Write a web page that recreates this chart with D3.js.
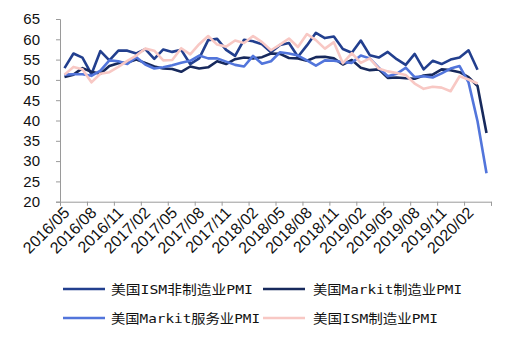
<!DOCTYPE html>
<html>
<head>
<meta charset="utf-8">
<script src="https://cdn.jsdelivr.net/npm/d3@7"></script>
<style>
  body { margin: 0; background: #fff; }
  svg { display: block; }
</style>
</head>
<body>
<svg id="chart" width="512" height="337"></svg>
<script>
// Monthly categories, 2016/05 – 2020/04
const months = [
  "2016/05","2016/06","2016/07","2016/08","2016/09","2016/10","2016/11","2016/12",
  "2017/01","2017/02","2017/03","2017/04","2017/05","2017/06","2017/07","2017/08",
  "2017/09","2017/10","2017/11","2017/12","2018/01","2018/02","2018/03","2018/04",
  "2018/05","2018/06","2018/07","2018/08","2018/09","2018/10","2018/11","2018/12",
  "2019/01","2019/02","2019/03","2019/04","2019/05","2019/06","2019/07","2019/08",
  "2019/09","2019/10","2019/11","2019/12","2020/01","2020/02","2020/03","2020/04"
];

// Labelled months on the x axis
const tickLabels = [
  "2016/05","2016/08","2016/11","2017/02","2017/05","2017/08","2017/11","2018/02",
  "2018/05","2018/08","2018/11","2019/02","2019/05","2019/08","2019/11","2020/02"
];

const yTicks = [20, 25, 30, 35, 40, 45, 50, 55, 60, 65];

// 美国ISM非制造业PMI
const ismNonMfg = [
  52.9, 56.5, 55.5, 51.4, 57.1, 54.8, 57.2, 57.2,
  56.5, 57.6, 55.2, 57.5, 56.9, 57.4, 53.9, 55.3, 59.8, 60.1, 57.4, 55.9,
  59.9, 59.5, 58.8, 56.8, 58.6, 59.1, 55.7, 58.5, 61.6, 60.3, 60.7, 57.6,
  56.7, 59.7, 56.1, 55.5, 56.9, 55.1, 53.7, 56.4, 52.6, 54.7, 53.9, 55.0,
  55.5, 57.3, 52.5, null
];

// 美国Markit制造业PMI
const markitMfg = [
  50.7, 51.3, 52.9, 52.0, 51.5, 53.4, 54.1, 54.3,
  55.0, 54.2, 53.3, 52.8, 52.7, 52.0, 53.3, 52.8, 53.1, 54.6, 53.9, 55.1,
  55.5, 55.3, 55.6, 56.5, 56.4, 55.4, 55.3, 54.7, 55.6, 55.7, 55.3, 53.8,
  54.9, 53.0, 52.4, 52.6, 50.5, 50.6, 50.4, 50.3, 51.1, 51.3, 52.6, 52.4,
  51.9, 50.7, 48.5, 36.9
];

// 美国Markit服务业PMI
const markitSvc = [
  51.3, 51.4, 51.4, 51.0, 52.3, 54.8, 54.6, 53.9,
  55.6, 53.8, 52.8, 53.1, 53.6, 54.2, 54.7, 56.0, 55.3, 55.3, 54.5, 53.7,
  53.3, 55.9, 54.0, 54.6, 56.8, 56.5, 56.0, 54.8, 53.5, 54.8, 54.7, 54.4,
  54.2, 56.0, 55.3, 53.0, 50.9, 51.5, 53.0, 50.7, 50.9, 50.6, 51.6, 52.8,
  53.4, 49.4, 39.8, 27.0
];

// 美国ISM制造业PMI
const ismMfg = [
  51.3, 53.2, 52.6, 49.4, 51.5, 51.9, 53.2, 54.7,
  56.0, 57.7, 57.2, 54.8, 54.9, 57.8, 56.3, 58.8, 60.8, 58.7, 58.2, 59.7,
  59.1, 60.8, 59.3, 57.3, 58.7, 60.2, 58.1, 61.3, 59.8, 57.7, 59.3, 54.1,
  56.6, 54.2, 55.3, 52.8, 52.1, 51.7, 51.2, 49.1, 47.8, 48.3, 48.1, 47.2,
  50.9, 50.1, 49.1, null
];

const seriesNames = ["美国ISM非制造业PMI", "美国Markit制造业PMI", "美国Markit服务业PMI", "美国ISM制造业PMI"];
const seriesValues = [ismNonMfg, markitMfg, markitSvc, ismMfg];
const seriesColors = ["#223f8e", "#17295c", "#5275db", "#f8c8c4"];

const svg = d3.select("#chart");
const plotLeft = 60, plotRight = 491, plotTop = 19, plotBottom = 201.7;

const x = d3.scaleBand().domain(months).range([plotLeft, plotRight]).padding(0);
const xEdge = d3.scaleLinear().domain([0, months.length]).range([plotLeft, plotRight]);
const y = d3.scaleLinear().domain([20, 65]).range([plotBottom, plotTop]);

const axisColor = "#9a9a9a";

// y axis
const yAxis = svg.append("g")
  .attr("transform", `translate(${plotLeft},0)`)
  .call(d3.axisLeft(y).tickValues(yTicks).tickSize(4).tickPadding(16));
yAxis.select(".domain").attr("stroke", axisColor);
yAxis.selectAll(".tick line").attr("stroke", axisColor);
yAxis.selectAll(".tick text")
  .attr("fill", "#111")
  .style("font-family", "'Liberation Sans', Arial, sans-serif")
  .style("font-size", "15px");

// x axis: ticks on category boundaries every quarter
const edgeTicks = d3.range(0, months.length + 1, 3);
const xAxis = svg.append("g")
  .attr("transform", `translate(0,${plotBottom})`)
  .call(d3.axisBottom(xEdge).tickValues(edgeTicks).tickSize(4).tickFormat(""));
xAxis.select(".domain").attr("stroke", axisColor);
xAxis.selectAll(".tick line").attr("stroke", axisColor);

// rotated month labels, anchored at category centres
svg.append("g").selectAll("text")
  .data(tickLabels)
  .join("text")
  .attr("transform", d => `translate(${x(d) + x.bandwidth() / 2 + 6},${plotBottom + 12}) rotate(-45)`)
  .attr("text-anchor", "end")
  .attr("fill", "#111")
  .style("font-family", "'Liberation Sans', Arial, sans-serif")
  .style("font-size", "16px")
  .text(d => d);

// series lines
const line = d3.line()
  .defined(v => v !== null)
  .x((v, i) => x(months[i]) + x.bandwidth() / 2)
  .y(v => y(v));

svg.append("g").selectAll("path")
  .data(seriesValues)
  .join("path")
  .attr("d", d => line(d))
  .attr("fill", "none")
  .attr("stroke", (d, i) => seriesColors[i])
  .attr("stroke-width", 2.6)
  .attr("stroke-linejoin", "round");

// legend
const legendPos = [
  { lx: 63, tx: 111, y: 289, w: 142 },
  { lx: 263, tx: 313, y: 289, w: 149 },
  { lx: 63, tx: 111, y: 318, w: 149 },
  { lx: 263, tx: 313, y: 318, w: 125 }
];
const legend = svg.append("g").selectAll("g")
  .data(seriesNames)
  .join("g");
legend.append("line")
  .attr("x1", (d, i) => legendPos[i].lx)
  .attr("x2", (d, i) => legendPos[i].lx + 42)
  .attr("y1", (d, i) => legendPos[i].y)
  .attr("y2", (d, i) => legendPos[i].y)
  .attr("stroke", (d, i) => seriesColors[i])
  .attr("stroke-width", 2.6);
legend.append("text")
  .attr("x", (d, i) => legendPos[i].tx)
  .attr("y", (d, i) => legendPos[i].y)
  .attr("dy", "0.36em")
  .attr("textLength", (d, i) => legendPos[i].w)
  .attr("lengthAdjust", "spacingAndGlyphs")
  .attr("fill", "#111")
  .style("font-family", "'DejaVu Sans Mono', 'Noto Sans CJK SC', sans-serif")
  .style("font-size", "13px")
  .style("font-weight", "normal")
  .text(d => d);
</script>
</body>
</html>
